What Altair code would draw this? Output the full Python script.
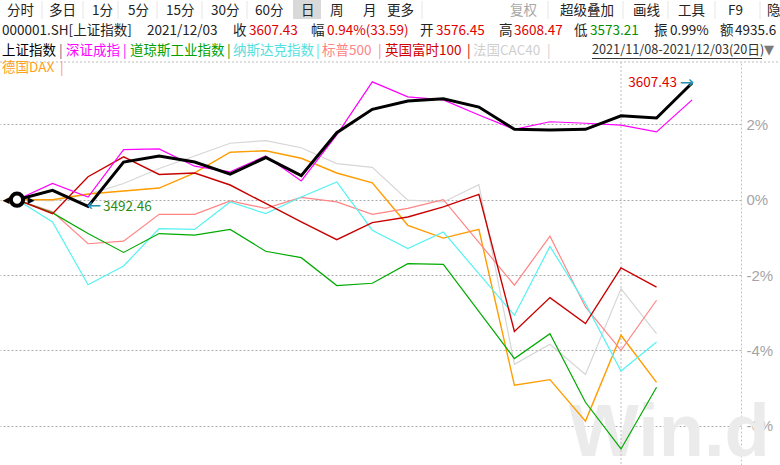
import altair as alt
import pandas as pd

# ---------------- data (percent change vs 2021/11/08) ----------------
dates = ["11/08", "11/09", "11/10", "11/11", "11/12", "11/15", "11/16", "11/17", "11/18", "11/19",
         "11/22", "11/23", "11/24", "11/25", "11/26", "11/29", "11/30", "12/01", "12/02", "12/03"]

names = ["上证指数", "深证成指", "道琼斯工业指数", "纳斯达克指数", "标普500", "英国富时100", "法国CAC40", "德国DAX"]
line_colors = ["#000000", "#FF00FF", "#00AA00", "#55F2F2", "#FF8585", "#C80000", "#D6D6D6", "#FF9C00"]
text_colors = ["#000000", "#FF00FF", "#00A000", "#55E0E0", "#FF8585", "#D00000", "#CFCFCF", "#FFA020"]
line_widths = [3.0, 1.2, 1.2, 1.2, 1.2, 1.4, 1.2, 1.4]
draw_order = [6, 7, 4, 3, 2, 5, 1, 0]

sh = [0, 0.25, -0.18, 1.00, 1.16, 1.00, 0.68, 1.12, 0.64, 1.78,
      2.40, 2.62, 2.68, 2.46, 1.87, 1.85, 1.87, 2.23, 2.17, 3.10]
sz = [0, 0.43, 0.07, 1.33, 1.35, 0.89, 0.74, 1.16, 0.50, 1.72,
      3.13, 2.73, 2.65, 2.25, 1.87, 2.07, 2.03, 1.98, 1.80, 2.65]
dji = [0, -0.35, -0.90, -1.40, -0.90, -0.94, -0.79, -1.37, -1.54, -2.28,
       -2.22, -1.70, -1.72, None, -4.22, -3.56, -5.38, -6.62, -4.98]
ixic = [0, -0.59, -2.26, -1.76, -0.77, -0.79, -0.06, -0.37, 0.07, 0.47,
        -0.81, -1.30, -0.86, None, -3.07, -1.24, -2.76, -4.55, -3.78]
spx = [0, -0.32, -1.17, -1.10, -0.39, -0.39, -0.03, -0.23, 0.06, -0.06,
       -0.39, -0.23, 0.00, None, -2.27, -0.97, -2.85, -4.00, -2.67]
ftse = [0, -0.37, 0.61, 1.14, 0.67, 0.71, 0.39, -0.10, -0.59, -1.06,
        -0.61, -0.46, -0.19, 0.14, -3.50, -2.60, -3.29, -1.81, -2.32]
cac = [0, -0.03, 0.14, 0.43, 0.83, 1.16, 1.50, 1.57, 1.38, 0.96,
       0.86, -0.01, -0.06, 0.40, -4.37, -3.84, -4.64, -2.36, -3.56]
dax = [0, 0.00, 0.15, 0.23, 0.31, 0.71, 1.26, 1.30, 1.10, 0.71,
       0.45, -0.68, -1.02, -0.79, -4.93, -4.78, -5.88, -3.60, -4.85]
series_vals = [sh, sz, dji, ixic, spx, ftse, cac, dax]

sh_low_label = "3492.46"
sh_last_label = "3607.43"

y_ticks = [2, 0, -2, -4, -6]

# ---------------- header texts ----------------
toolbar_items = ["分时", "多日", "1分", "5分", "15分", "30分", "60分", "日", "周", "月", "更多",
                 "复权", "超级叠加", "画线", "工具", "F9", "隐"]
toolbar_x = [7, 49, 92, 128, 166, 211, 255, 301, 330, 363, 387, 510, 560, 633, 678, 728, 767]
toolbar_colors = ["#222222"] * 11 + ["#A8A8A8"] + ["#222222"] * 5
toolbar_sep_x = [42, 83, 118, 157, 202, 247, 422, 548, 623, 668, 715, 760]

info_items = ["000001.SH[上证指数]", "2021/12/03", "收", "3607.43", "幅", "0.94%(33.59)", "开", "3576.45",
              "高", "3608.47", "低", "3573.21", "振", "0.99%", "额", "4935.6"]
info_x = [2, 147, 233, 249, 311, 327, 420, 436, 499, 514, 574, 590, 654, 670, 720, 735]
info_colors = ["#222222", "#222222", "#222222", "#E00000", "#222222", "#E00000", "#222222", "#E00000",
               "#222222", "#E00000", "#222222", "#009000", "#222222", "#222222", "#222222", "#222222"]

legend_x = [2, 66, 130, 233, 322, 385, 473, 2]
legend_bar_x = [59, 123, 227, 316, 378, 467, 547, 60]
legend_row_y = [51, 51, 51, 51, 51, 51, 51, 68]

range_text = "2021/11/08-2021/12/03(20日)"
watermark = "Win.d"

# ---------------- layout ----------------
TOP = 62
PLOT_W = 741
PLOT_H = 465 - TOP
PX_PER_PCT = 37.65
ZERO_Y = 199.7
X0, STEP = 17.0, 35.53

y_dom = [(ZERO_Y - 465) / PX_PER_PCT, (ZERO_Y - TOP) / PX_PER_PCT]
x_dom = [-X0 / STEP, (PLOT_W - X0) / STEP]

FONT = "Noto Sans CJK SC"
FS = 13.5

rows = []
for name, vals in zip(names, series_vals):
    for i, v in enumerate(vals):
        if v is not None:
            rows.append({"i": i, "date": dates[i], "pct": v, "name": name})
df = pd.DataFrame(rows)

xs = alt.Scale(domain=x_dom, nice=False, zero=False)
ys = alt.Scale(domain=y_dom, nice=False, zero=False)
X = alt.X("i:Q", scale=xs, axis=None)
Y = alt.Y("pct:Q", scale=ys,
          axis=alt.Axis(orient="right", values=y_ticks, labelExpr="datum.value + '%'",
                        grid=True, gridDash=[2, 2], gridColor="#ABABAB", gridWidth=1,
                        domain=True, domainDash=[2, 2], domainColor="#C4C4C4", domainWidth=1,
                        ticks=False, labelPadding=5, labelColor="#A5A5A5", labelFontSize=15,
                        labelFont="Liberation Sans", title=None))

data_layers = []
# month boundary (first December date)
month_idx = next(k for k, d in enumerate(dates) if d.startswith("12"))
data_layers.append(
    alt.Chart(pd.DataFrame({"i": [month_idx]})).mark_rule(
        color="#BDBDBD", strokeDash=[2, 2], strokeWidth=1).encode(x=X)
)
for k in draw_order:
    sub = df[df["name"] == names[k]]
    data_layers.append(
        alt.Chart(sub).mark_line(color=line_colors[k], strokeWidth=line_widths[k],
                                 strokeJoin="miter").encode(x=X, y=Y)
    )

sh_df = df[df["name"] == names[0]].reset_index(drop=True)
low_df = sh_df.loc[[sh_df["pct"].idxmin()]].assign(lab=sh_low_label)
last_df = sh_df.iloc[[-1]].assign(lab=sh_last_label)
start_df = sh_df.iloc[[0]]

data_layers += [
    alt.Chart(low_df).mark_text(text="←", align="left", baseline="middle", dx=-1, dy=0,
                                font="DejaVu Sans", fontSize=17, color="#2A93B4").encode(x=X, y=Y),
    alt.Chart(low_df).mark_text(align="left", baseline="middle", dx=15, dy=1,
                                font=FONT, fontSize=FS, color="#2F8A14").encode(x=X, y=Y, text="lab:N"),
    alt.Chart(last_df).mark_text(text="→", align="right", baseline="middle", dx=2, dy=0,
                                 font="DejaVu Sans", fontSize=17, color="#2A93B4").encode(x=X, y=Y),
    alt.Chart(last_df).mark_text(align="right", baseline="middle", dx=-15, dy=0,
                                 font=FONT, fontSize=FS, color="#E00000").encode(x=X, y=Y, text="lab:N"),
    alt.Chart(start_df).mark_text(text="◀", align="center", baseline="middle", dx=-11, dy=0,
                                  font="DejaVu Sans", fontSize=9, color="#000000").encode(x=X, y=Y),
    alt.Chart(start_df).mark_text(text="▶", align="center", baseline="middle", dx=14, dy=0,
                                  font="DejaVu Sans", fontSize=9, color="#000000").encode(x=X, y=Y),
    alt.Chart(start_df).mark_point(shape="circle", size=150, filled=False, fill="#FFFFFF",
                                   fillOpacity=1, stroke="#000000", strokeWidth=4, opacity=1).encode(x=X, y=Y),
]
data_layer = alt.layer(*data_layers)

# ---------------- decorations (pixel coordinates relative to plot top-left) ----------------
PXs = lambda f: alt.X(f, scale=None, axis=None)
PYs = lambda f: alt.Y(f, scale=None, axis=None)

texts = []
for t, x, c in zip(toolbar_items, toolbar_x, toolbar_colors):
    texts.append({"t": t, "px": x, "py": 11 - TOP, "c": c})
for t, x, c in zip(info_items, info_x, info_colors):
    texts.append({"t": t, "px": x, "py": 31 - TOP, "c": c})
for k in range(len(names)):
    texts.append({"t": names[k], "px": legend_x[k], "py": legend_row_y[k] - TOP, "c": text_colors[k]})
    bar_c = "#5A6A80" if k == 0 else text_colors[k]
    texts.append({"t": "|", "px": legend_bar_x[k], "py": legend_row_y[k] - TOP, "c": bar_c})
tdf = pd.DataFrame(texts)

range_df = pd.DataFrame({"t": [range_text], "px": [592], "py": [50 - TOP]})
box_df = pd.DataFrame({"x1": [293], "x2": [321], "y1": [0 - TOP], "y2": [19 - TOP]})
sep_df = pd.DataFrame({"x": toolbar_sep_x, "y1": [1 - TOP] * len(toolbar_sep_x),
                       "y2": [19 - TOP] * len(toolbar_sep_x)})
ul_df = pd.DataFrame({"x1": [592], "x2": [762], "y": [58.5 - TOP]})
top_df = pd.DataFrame({"x1": [0], "x2": [780], "y": [0]})
wm_df = pd.DataFrame({"t": [watermark], "px": [569], "py": [456 - TOP]})
tri_df = pd.DataFrame({"t": ["▼"], "px": [764], "py": [50 - TOP]})

back_layer = alt.layer(
    alt.Chart(wm_df).mark_text(align="left", baseline="alphabetic", font="Liberation Sans",
                               fontWeight="bold", fontSize=74, color="#EBEBEB")
    .encode(x=PXs("px:Q"), y=PYs("py:Q"), text="t:N"),
    alt.Chart(top_df).mark_rule(color="#BDBDBD", strokeDash=[2, 2], strokeWidth=1)
    .encode(x=PXs("x1:Q"), x2="x2:Q", y=PYs("y:Q")),
)

front_layer = alt.layer(
    alt.Chart(box_df).mark_rect(color="#D9D9D9")
    .encode(x=PXs("x1:Q"), x2="x2:Q", y=PYs("y1:Q"), y2="y2:Q"),
    alt.Chart(sep_df).mark_rule(color="#E6E6E6", strokeWidth=1)
    .encode(x=PXs("x:Q"), y=PYs("y1:Q"), y2="y2:Q"),
    alt.Chart(ul_df).mark_rule(color="#333333", strokeWidth=1)
    .encode(x=PXs("x1:Q"), x2="x2:Q", y=PYs("y:Q")),
    alt.Chart(tdf).mark_text(align="left", baseline="middle", font=FONT, fontSize=FS)
    .encode(x=PXs("px:Q"), y=PYs("py:Q"), text="t:N", color=alt.Color("c:N", scale=None, legend=None)),
    alt.Chart(range_df).mark_text(align="left", baseline="middle", font=FONT, fontSize=12.7,
                                  color="#333333")
    .encode(x=PXs("px:Q"), y=PYs("py:Q"), text="t:N"),
    alt.Chart(tri_df).mark_text(align="left", baseline="middle", font="DejaVu Sans", fontSize=13,
                                color="#7A7A7A")
    .encode(x=PXs("px:Q"), y=PYs("py:Q"), text="t:N"),
)

chart = alt.layer(back_layer, data_layer, front_layer).resolve_scale(
    x="independent", y="independent"
).properties(
    width=PLOT_W, height=PLOT_H,
    padding={"left": 0, "top": TOP, "right": 780 - PLOT_W, "bottom": 0},
    autosize=alt.AutoSizeParams(type="none"),
    background="#FFFFFF",
).configure_view(stroke=None)

chart.save("out.html", embed_options={"renderer": "svg", "actions": False})
